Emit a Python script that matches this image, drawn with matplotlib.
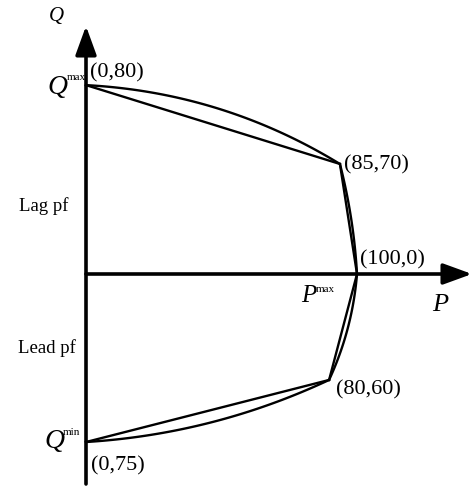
import numpy as np
import matplotlib
matplotlib.use("Agg")
import matplotlib.pyplot as plt

# operating points (drawn schematically, labels hold the quoted values)
p_pos = [0, 93.7, 100, 89.7, 0]
q_pos = [69.7, 40.6, 0, -39.1, -62.0]
pt_labels = ["(0,80)", "(85,70)", "(100,0)", "(80,60)", "(0,75)"]
# outward bulge of the capability curve on each segment
bulge = [6.2, 1.0, 1.8, 4.4]

W, H = 474, 489
px = 2.71  # pixels per unit
ox, oy = 86, 275

fig = plt.figure(figsize=(W / 100, H / 100), dpi=100)
ax = fig.add_axes([0, 0, 1, 1])
ax.set_xlim(-ox / px, (W - ox) / px)
ax.set_ylim(-(H - oy) / px, oy / px)
ax.axis("off")

serif = "Liberation Serif"

# axes with arrows
arr = dict(arrowstyle="-|>,head_length=1.1,head_width=0.4", lw=2.6, color="black",
           mutation_scale=16, shrinkA=0, shrinkB=0)
ax.annotate("", xy=(0, (oy - 27) / px), xytext=(0, -(485 - oy) / px), arrowprops=arr)
ax.annotate("", xy=((472 - ox) / px, 0), xytext=(0, 0), arrowprops=arr)

# straight polygon
ax.plot(p_pos, q_pos, color="black", lw=1.7, solid_joinstyle="miter")

# curved boundary
t = np.linspace(0, 1, 60)
for i in range(len(p_pos) - 1):
    a = np.array([p_pos[i], q_pos[i]])
    b = np.array([p_pos[i + 1], q_pos[i + 1]])
    d = b - a
    n = np.array([-d[1], d[0]]) / np.hypot(*d)
    pts = a + np.outer(t, d) + np.outer(4 * bulge[i] * t * (1 - t), n)
    ax.plot(pts[:, 0], pts[:, 1], color="black", lw=1.7)

# point labels
offsets = [(4, 13), (4, 0), (3, 15), (7, -9), (5, -23)]
for x, y, lab, off in zip(p_pos, q_pos, pt_labels, offsets):
    ax.annotate(lab, (x, y), xytext=off, textcoords="offset pixels",
                ha="left", va="center", fontsize=16, family=serif)


def ftext(x, y, s, **kw):
    fig.text(x / W, 1 - y / H, s, family=serif, **kw)


ftext(56, 16, "Q", fontsize=15, style="italic", ha="center", va="center")
ftext(67, 87, "Q", fontsize=20, style="italic", ha="right", va="center")
ftext(67, 78, "max", fontsize=8, ha="left", va="center")
ftext(64, 442, "Q", fontsize=20, style="italic", ha="right", va="center")
ftext(63, 433, "min", fontsize=8, ha="left", va="center")
ftext(316, 296, "P", fontsize=18, style="italic", ha="right", va="center")
ftext(316, 290, "max", fontsize=8, ha="left", va="center")
ftext(440, 305, "P", fontsize=19, style="italic", ha="center", va="center")
ftext(19, 206, "Lag pf", fontsize=13.5, ha="left", va="center")
ftext(18, 348, "Lead pf", fontsize=13.5, ha="left", va="center")

fig.savefig("out.png", dpi=100)
